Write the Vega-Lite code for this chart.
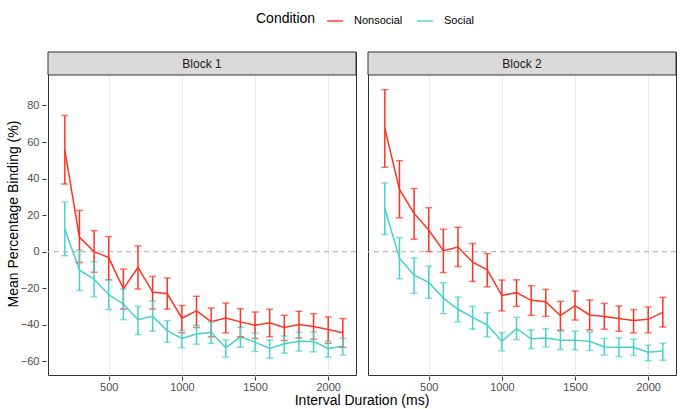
{
  "$schema": "https://vega.github.io/schema/vega-lite/v6.json",
  "background": "white",
  "padding": {"left": 6, "top": 12, "right": 8, "bottom": 0},
  "config": {
    "font": "Liberation Sans",
    "view": {"stroke": "#333333", "strokeWidth": 1},
    "axis": {"gridColor": "#EBEBEB", "gridWidth": 1, "tickColor": "#333333", "tickSize": 4, "labelColor": "#4D4D4D", "labelFontSize": 11, "domain": false, "titleFontSize": 14, "titleFontWeight": "normal", "titleColor": "black"}
  },
  "data": {"values": [
    {"Block": "Block 1", "Condition": "Nonsocial", "x": 200, "mean": 55.5, "lo": 37, "hi": 74.5},
    {"Block": "Block 1", "Condition": "Nonsocial", "x": 300, "mean": 7.8, "lo": -6, "hi": 22.5},
    {"Block": "Block 1", "Condition": "Nonsocial", "x": 400, "mean": 0, "lo": -11.3, "hi": 11.5},
    {"Block": "Block 1", "Condition": "Nonsocial", "x": 500, "mean": -3.3, "lo": -15.5, "hi": 8.2},
    {"Block": "Block 1", "Condition": "Nonsocial", "x": 600, "mean": -20.4, "lo": -31.5, "hi": -9.6},
    {"Block": "Block 1", "Condition": "Nonsocial", "x": 700, "mean": -8.7, "lo": -20.5, "hi": 3.1},
    {"Block": "Block 1", "Condition": "Nonsocial", "x": 800, "mean": -22.2, "lo": -31.5, "hi": -13.6},
    {"Block": "Block 1", "Condition": "Nonsocial", "x": 900, "mean": -23.1, "lo": -31.5, "hi": -14.5},
    {"Block": "Block 1", "Condition": "Nonsocial", "x": 1000, "mean": -36.5, "lo": -44.5, "hi": -29.5},
    {"Block": "Block 1", "Condition": "Nonsocial", "x": 1100, "mean": -32.5, "lo": -41.6, "hi": -24.5},
    {"Block": "Block 1", "Condition": "Nonsocial", "x": 1200, "mean": -38.4, "lo": -46.7, "hi": -30.9},
    {"Block": "Block 1", "Condition": "Nonsocial", "x": 1300, "mean": -36.4, "lo": -44.5, "hi": -28.2},
    {"Block": "Block 1", "Condition": "Nonsocial", "x": 1400, "mean": -38.5, "lo": -46.7, "hi": -31.3},
    {"Block": "Block 1", "Condition": "Nonsocial", "x": 1500, "mean": -40.4, "lo": -47.6, "hi": -33.1},
    {"Block": "Block 1", "Condition": "Nonsocial", "x": 1600, "mean": -39, "lo": -46.7, "hi": -31.6},
    {"Block": "Block 1", "Condition": "Nonsocial", "x": 1700, "mean": -41.6, "lo": -48.7, "hi": -34.9},
    {"Block": "Block 1", "Condition": "Nonsocial", "x": 1800, "mean": -40, "lo": -47.3, "hi": -32.7},
    {"Block": "Block 1", "Condition": "Nonsocial", "x": 1900, "mean": -41, "lo": -48, "hi": -34},
    {"Block": "Block 1", "Condition": "Nonsocial", "x": 2000, "mean": -42.7, "lo": -50.2, "hi": -35.8},
    {"Block": "Block 1", "Condition": "Nonsocial", "x": 2100, "mean": -44.5, "lo": -52.4, "hi": -36.7},
    {"Block": "Block 1", "Condition": "Social", "x": 200, "mean": 12.2, "lo": -2.2, "hi": 27.1},
    {"Block": "Block 1", "Condition": "Social", "x": 300, "mean": -10.2, "lo": -21.3, "hi": 0.9},
    {"Block": "Block 1", "Condition": "Social", "x": 400, "mean": -15.1, "lo": -24.7, "hi": -5.6},
    {"Block": "Block 1", "Condition": "Social", "x": 500, "mean": -23.6, "lo": -31.8, "hi": -15.5},
    {"Block": "Block 1", "Condition": "Social", "x": 600, "mean": -28.7, "lo": -37.3, "hi": -20.5},
    {"Block": "Block 1", "Condition": "Social", "x": 700, "mean": -37.3, "lo": -45.5, "hi": -30},
    {"Block": "Block 1", "Condition": "Social", "x": 800, "mean": -35.5, "lo": -43.6, "hi": -27.1},
    {"Block": "Block 1", "Condition": "Social", "x": 900, "mean": -43.3, "lo": -49.6, "hi": -37.8},
    {"Block": "Block 1", "Condition": "Social", "x": 1000, "mean": -47.6, "lo": -52.7, "hi": -43.1},
    {"Block": "Block 1", "Condition": "Social", "x": 1100, "mean": -45.1, "lo": -50.7, "hi": -40.4},
    {"Block": "Block 1", "Condition": "Social", "x": 1200, "mean": -44.2, "lo": -50.2, "hi": -38.5},
    {"Block": "Block 1", "Condition": "Social", "x": 1300, "mean": -52.7, "lo": -57.8, "hi": -48.4},
    {"Block": "Block 1", "Condition": "Social", "x": 1400, "mean": -46.7, "lo": -52.4, "hi": -41.5},
    {"Block": "Block 1", "Condition": "Social", "x": 1500, "mean": -49.6, "lo": -54.7, "hi": -44.7},
    {"Block": "Block 1", "Condition": "Social", "x": 1600, "mean": -53.1, "lo": -58.4, "hi": -48.4},
    {"Block": "Block 1", "Condition": "Social", "x": 1700, "mean": -50.5, "lo": -55.6, "hi": -46.2},
    {"Block": "Block 1", "Condition": "Social", "x": 1800, "mean": -49.1, "lo": -54.5, "hi": -44.2},
    {"Block": "Block 1", "Condition": "Social", "x": 1900, "mean": -49.3, "lo": -54.9, "hi": -44},
    {"Block": "Block 1", "Condition": "Social", "x": 2000, "mean": -53.1, "lo": -57.8, "hi": -48.9},
    {"Block": "Block 1", "Condition": "Social", "x": 2100, "mean": -51.8, "lo": -56.7, "hi": -47.5},
    {"Block": "Block 2", "Condition": "Nonsocial", "x": 200, "mean": 67.6, "lo": 46.2, "hi": 88.7},
    {"Block": "Block 2", "Condition": "Nonsocial", "x": 300, "mean": 34, "lo": 18.5, "hi": 49.8},
    {"Block": "Block 2", "Condition": "Nonsocial", "x": 400, "mean": 20.9, "lo": 6.7, "hi": 34.5},
    {"Block": "Block 2", "Condition": "Nonsocial", "x": 500, "mean": 11.8, "lo": 0, "hi": 24},
    {"Block": "Block 2", "Condition": "Nonsocial", "x": 600, "mean": 0.5, "lo": -11.5, "hi": 12.2},
    {"Block": "Block 2", "Condition": "Nonsocial", "x": 700, "mean": 2.5, "lo": -8.2, "hi": 13.3},
    {"Block": "Block 2", "Condition": "Nonsocial", "x": 800, "mean": -5.8, "lo": -16.4, "hi": 4.4},
    {"Block": "Block 2", "Condition": "Nonsocial", "x": 900, "mean": -10, "lo": -19.3, "hi": -1.1},
    {"Block": "Block 2", "Condition": "Nonsocial", "x": 1000, "mean": -24, "lo": -32.5, "hi": -15.6},
    {"Block": "Block 2", "Condition": "Nonsocial", "x": 1100, "mean": -22.5, "lo": -30, "hi": -15.5},
    {"Block": "Block 2", "Condition": "Nonsocial", "x": 1200, "mean": -26.7, "lo": -34.9, "hi": -18.7},
    {"Block": "Block 2", "Condition": "Nonsocial", "x": 1300, "mean": -27.5, "lo": -35.5, "hi": -20.7},
    {"Block": "Block 2", "Condition": "Nonsocial", "x": 1400, "mean": -35.1, "lo": -43.1, "hi": -27.3},
    {"Block": "Block 2", "Condition": "Nonsocial", "x": 1500, "mean": -29.6, "lo": -37.5, "hi": -21.6},
    {"Block": "Block 2", "Condition": "Nonsocial", "x": 1600, "mean": -34.7, "lo": -42.9, "hi": -26.5},
    {"Block": "Block 2", "Condition": "Nonsocial", "x": 1700, "mean": -35.5, "lo": -42.5, "hi": -28.4},
    {"Block": "Block 2", "Condition": "Nonsocial", "x": 1800, "mean": -36.7, "lo": -43.6, "hi": -29.8},
    {"Block": "Block 2", "Condition": "Nonsocial", "x": 1900, "mean": -37.8, "lo": -44.5, "hi": -31.8},
    {"Block": "Block 2", "Condition": "Nonsocial", "x": 2000, "mean": -37.1, "lo": -44.5, "hi": -30.4},
    {"Block": "Block 2", "Condition": "Nonsocial", "x": 2100, "mean": -33.3, "lo": -41.3, "hi": -25.1},
    {"Block": "Block 2", "Condition": "Social", "x": 200, "mean": 23.6, "lo": 9.3, "hi": 37.6},
    {"Block": "Block 2", "Condition": "Social", "x": 300, "mean": -3.6, "lo": -14.9, "hi": 7.6},
    {"Block": "Block 2", "Condition": "Social", "x": 400, "mean": -12.9, "lo": -22.9, "hi": -3.5},
    {"Block": "Block 2", "Condition": "Social", "x": 500, "mean": -16.9, "lo": -25.6, "hi": -8},
    {"Block": "Block 2", "Condition": "Social", "x": 600, "mean": -25.5, "lo": -34, "hi": -17.1},
    {"Block": "Block 2", "Condition": "Social", "x": 700, "mean": -31.6, "lo": -38.5, "hi": -24.9},
    {"Block": "Block 2", "Condition": "Social", "x": 800, "mean": -36, "lo": -42.5, "hi": -30},
    {"Block": "Block 2", "Condition": "Social", "x": 900, "mean": -40.2, "lo": -46.7, "hi": -33.5},
    {"Block": "Block 2", "Condition": "Social", "x": 1000, "mean": -49.1, "lo": -54.4, "hi": -44.4},
    {"Block": "Block 2", "Condition": "Social", "x": 1100, "mean": -42.2, "lo": -48.2, "hi": -36},
    {"Block": "Block 2", "Condition": "Social", "x": 1200, "mean": -47.8, "lo": -53.1, "hi": -42.9},
    {"Block": "Block 2", "Condition": "Social", "x": 1300, "mean": -47.3, "lo": -52.2, "hi": -42.2},
    {"Block": "Block 2", "Condition": "Social", "x": 1400, "mean": -48.5, "lo": -53.6, "hi": -43.6},
    {"Block": "Block 2", "Condition": "Social", "x": 1500, "mean": -48.5, "lo": -53.8, "hi": -43.6},
    {"Block": "Block 2", "Condition": "Social", "x": 1600, "mean": -49.1, "lo": -54.2, "hi": -44},
    {"Block": "Block 2", "Condition": "Social", "x": 1700, "mean": -52.2, "lo": -56.7, "hi": -47.6},
    {"Block": "Block 2", "Condition": "Social", "x": 1800, "mean": -52.4, "lo": -57.5, "hi": -47.3},
    {"Block": "Block 2", "Condition": "Social", "x": 1900, "mean": -52.4, "lo": -56.9, "hi": -48},
    {"Block": "Block 2", "Condition": "Social", "x": 2000, "mean": -55.1, "lo": -59.8, "hi": -51.3},
    {"Block": "Block 2", "Condition": "Social", "x": 2100, "mean": -54.5, "lo": -59.5, "hi": -50.2}
  ]},
  "facet": {"column": {"field": "Block", "type": "nominal", "header": {"labels": false, "title": "Interval Duration (ms)", "titleOrient": "bottom", "titleFontSize": 14, "titleFontWeight": "normal", "titleColor": "black", "titlePadding": -8}}},
  "spacing": 8,
  "resolve": {"scale": {"x": "shared", "y": "shared"}},
  "spec": {
    "width": 308,
    "height": 323,
    "encoding": {
      "x": {"type": "quantitative", "scale": {"domain": [85, 2190], "nice": false, "zero": false}, "axis": {"values": [500, 1000, 1500, 2000], "format": "d", "title": null, "labelPadding": 1}},
      "y": {"type": "quantitative", "scale": {"domain": [-67.6, 109.3], "nice": false, "zero": false}, "axis": {"values": [-60, -40, -20, 0, 20, 40, 60, 80], "title": "Mean Percentage Binding (%)", "labelPadding": 3, "titlePadding": 0}}
    },
    "layer": [
      {
        "transform": [{"aggregate": [{"op": "count", "as": "n"}], "groupby": ["Block"]}],
        "mark": {"type": "rule", "strokeDash": [5, 4], "color": "#BDBDBD", "strokeWidth": 1.2},
        "encoding": {"y": {"datum": 0}}
      },
      {
        "mark": {"type": "line", "strokeWidth": 1.5},
        "encoding": {
          "x": {"field": "x"},
          "y": {"field": "mean"},
          "color": {"field": "Condition", "type": "nominal", "scale": {"domain": ["Nonsocial", "Social"], "range": ["#FF3322", "#48D1CC"]},
            "legend": {"orient": "none", "legendX": 208, "legendY": -40, "direction": "horizontal", "title": "Condition", "titleOrient": "left", "titleFontSize": 14, "titleFontWeight": "normal", "titleColor": "black", "labelFontSize": 11, "labelColor": "black", "symbolType": "stroke", "symbolStrokeWidth": 2, "symbolSize": 250, "columnPadding": 10, "labelOffset": 10, "titlePadding": 10}}
        }
      },
      {
        "mark": {"type": "errorbar", "ticks": {"size": 7}, "thickness": 1.5},
        "encoding": {
          "x": {"field": "x"},
          "y": {"field": "lo", "type": "quantitative"},
          "y2": {"field": "hi"},
          "color": {"field": "Condition", "type": "nominal"}
        }
      },
      {
        "transform": [{"aggregate": [{"op": "count", "as": "n"}], "groupby": ["Block"]}],
        "mark": {"type": "rect", "fill": "#D9D9D9", "stroke": "#333333", "strokeWidth": 1},
        "encoding": {"x": {"datum": 85}, "x2": {"datum": 2190}, "y": {"datum": 96.7}, "y2": {"datum": 109.3}}
      },
      {
        "transform": [{"aggregate": [{"op": "count", "as": "n"}], "groupby": ["Block"]}],
        "mark": {"type": "text", "fontSize": 12, "color": "#1A1A1A", "baseline": "middle"},
        "encoding": {"x": {"datum": 1137.5}, "y": {"datum": 103}, "text": {"field": "Block"}}
      }
    ]
  }
}
